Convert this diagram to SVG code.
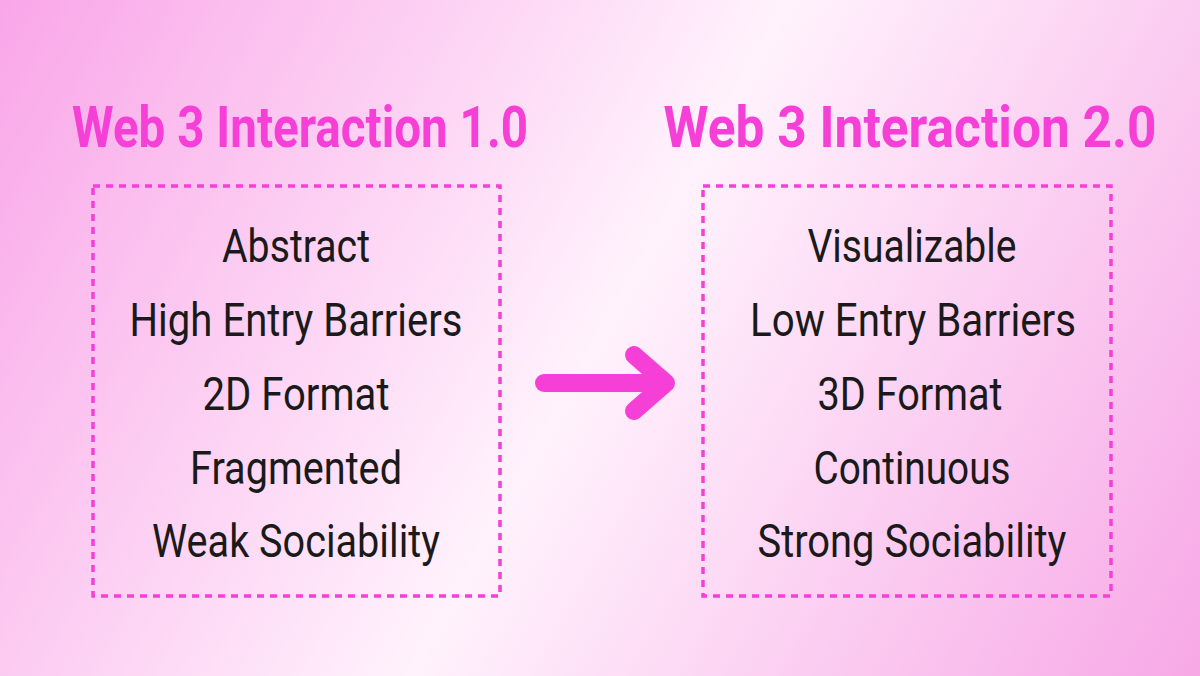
<svg xmlns="http://www.w3.org/2000/svg" width="1200" height="676" viewBox="0 0 1200 676">
<defs>
<linearGradient id="bg" x1="0" y1="0" x2="1200" y2="676" gradientUnits="userSpaceOnUse">
<stop offset="0" stop-color="#f9a6e8"/>
<stop offset="0.5" stop-color="#fff2fc"/>
<stop offset="1" stop-color="#f7a8e6"/>
</linearGradient>
<style>
.t{font-family:Roboto,"Liberation Sans",sans-serif;font-weight:bold;font-size:58px;fill:#f53fd6;text-anchor:middle}
.i{font-family:Roboto,"Liberation Sans",sans-serif;font-size:47px;fill:#1a1a1a;text-anchor:middle}
.box{fill:none;stroke:#f53fd6;stroke-width:3.5;stroke-dasharray:7 6}
</style>
</defs>
<rect width="1200" height="676" fill="url(#bg)"/>
<g id="left">
<text class="t" x="300" y="147" textLength="456" lengthAdjust="spacingAndGlyphs">Web 3 Interaction 1.0</text>
<rect class="box" x="93" y="186" width="407" height="410"/>
<text class="i" x="296" y="262" textLength="148" lengthAdjust="spacingAndGlyphs">Abstract</text>
<text class="i" x="296" y="336" textLength="333" lengthAdjust="spacingAndGlyphs">High Entry Barriers</text>
<text class="i" x="296" y="410" textLength="187" lengthAdjust="spacingAndGlyphs">2D Format</text>
<text class="i" x="296" y="484" textLength="212" lengthAdjust="spacingAndGlyphs">Fragmented</text>
<text class="i" x="296" y="557" textLength="288" lengthAdjust="spacingAndGlyphs">Weak Sociability</text>
</g>
<g id="right">
<text class="t" x="910" y="147" textLength="493" lengthAdjust="spacingAndGlyphs">Web 3 Interaction 2.0</text>
<rect class="box" x="703" y="186" width="408" height="410"/>
<text class="i" x="912" y="262" textLength="209" lengthAdjust="spacingAndGlyphs">Visualizable</text>
<text class="i" x="913" y="336" textLength="326" lengthAdjust="spacingAndGlyphs">Low Entry Barriers</text>
<text class="i" x="910" y="410" textLength="185" lengthAdjust="spacingAndGlyphs">3D Format</text>
<text class="i" x="912" y="484" textLength="197" lengthAdjust="spacingAndGlyphs">Continuous</text>
<text class="i" x="912" y="557" textLength="309" lengthAdjust="spacingAndGlyphs">Strong Sociability</text>
</g>
<g id="connectors" fill="none" stroke="#f53fd6" stroke-width="18" stroke-linecap="round" stroke-linejoin="round">
<path d="M544 383 H664"/>
<path d="M634 355 L666 383 L634 411"/>
</g>
</svg>
